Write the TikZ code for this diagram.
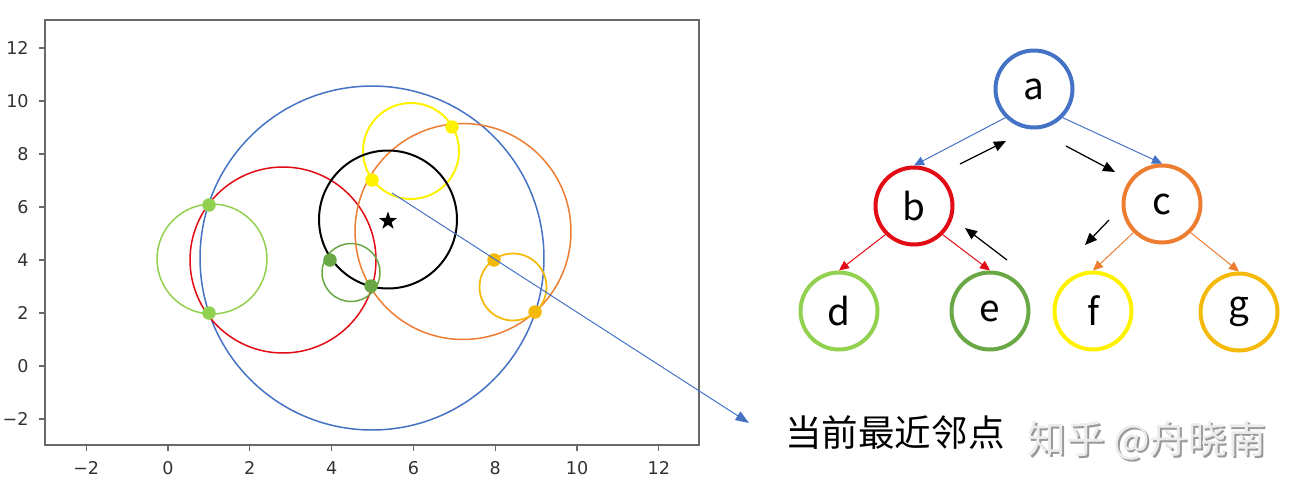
\documentclass[tikz,border=0pt]{standalone}
\usepackage{fontspec}
\setmainfont{Noto Sans CJK SC}
\newfontfamily\tickfont{DejaVu Sans}
\usetikzlibrary{arrows.meta,shapes.geometric}
\definecolor{cblue}{RGB}{68,114,196}
\definecolor{cred}{RGB}{228,12,20}
\definecolor{clgreen}{RGB}{146,208,80}
\definecolor{cdgreen}{RGB}{106,168,70}
\definecolor{cyellow}{RGB}{255,242,0}
\definecolor{cgold}{RGB}{245,185,10}
\definecolor{corange}{RGB}{237,125,49}
\definecolor{axgray}{RGB}{105,105,105}
\definecolor{labgray}{RGB}{50,50,50}
\begin{document}
\begin{tikzpicture}[x=0.02cm,y=-0.02cm,
  tnode/.style={circle,draw,line width=0.08cm,minimum size=1.54cm,inner sep=0pt,font=\fontsize{21}{25}\selectfont},
  tedge/.style={line width=0.02cm,-{Triangle[length=0.2cm,width=0.18cm]}},
  walk/.style={line width=0.025cm,-{Triangle[length=0.24cm,width=0.2cm]}},
  dot/.style={circle,inner sep=0pt,minimum size=0.27cm},
  pc/.style={line width=0.03cm},
  axtick/.style={line width=0.025cm,draw=axgray},
  ticklab/.style={font=\tickfont\fontsize{10}{12}\selectfont,text=labgray,inner sep=0pt}
]
\useasboundingbox (0,0) rectangle (1308,498);
% axes frame
\draw[axgray,line width=0.03cm] (45,20) rectangle (699,445);
\foreach \v/\t in {-2/−2,0/0,2/2,4/4,6/6,8/8,10/10,12/12}{
  \pgfmathsetmacro\yy{366-26.5*\v}
  \pgfmathsetmacro\xx{168+40.9*\v}
  \draw[axtick] (39,\yy) -- (45,\yy);
  \node[ticklab,anchor=east] at (29,\yy) {\t};
  \draw[axtick] (\xx,445) -- (\xx,451);
  \node[ticklab,anchor=north] at (\xx,461) {\t};
}
% circles
\draw[pc,cblue] (372,258) circle[radius=3.44cm];
\draw[pc,cred] (283,260) circle[radius=1.86cm];
\draw[pc,clgreen] (212,259) circle[radius=1.10cm];
\draw[pc,cdgreen] (351,272.5) circle[radius=0.58cm];
\draw[pc,cyellow,line width=0.04cm] (411,151) circle[radius=0.96cm];
\draw[pc,corange] (463,231.5) circle[radius=2.16cm];
\draw[pc,cgold,line width=0.035cm] (513,287) circle[radius=0.67cm];
\draw[black,line width=0.04cm] (388,219.5) circle[radius=1.38cm];
% points
\node[dot,fill=clgreen] (p1) at (209,205) {};
\node[dot,fill=clgreen] (p2) at (209,313) {};
\node[dot,fill=cdgreen] (p3) at (330,260) {};
\node[dot,fill=cdgreen] (p4) at (371,286) {};
\node[dot,fill=cyellow] (p5) at (372,180) {};
\node[dot,fill=cyellow] (p6) at (452,127) {};
\node[dot,fill=cgold] (p7) at (494,260) {};
\node[dot,fill=cgold] (p8) at (535,312) {};
\node[star,star points=5,star point ratio=2.5,fill=black,inner sep=0pt,minimum size=0.38cm] (q) at (388,221) {};
% pointer to label
\coordinate (ps) at (392,193);
\coordinate (pe) at (749,423);
\draw[cblue,line width=0.02cm,-{Triangle[length=0.27cm,width=0.2cm]}] (ps) -- (pe);
\node[anchor=west,inner sep=0pt,font=\fontsize{20.8}{25}\selectfont] (lbl) at (785,433) {当前最近邻点};
% watermark
\node[anchor=west,inner sep=0pt,font=\fontsize{22}{26}\selectfont,text=gray!80] (wms) at (1029,443) {知乎 @舟晓南};
\node[anchor=west,inner sep=0pt,font=\fontsize{22}{26}\selectfont,text=gray!15] (wm) at (1027,441) {知乎 @舟晓南};
% tree
\node[tnode,draw=cblue] (a) at (1034,89) {a};
\node[tnode,draw=cred] (b) at (914,206) {b};
\node[tnode,draw=corange] (c) at (1162,204) {c};
\node[tnode,draw=clgreen] (d) at (839,311) {d};
\node[tnode,draw=cdgreen] (e) at (990,311) {e};
\node[tnode,draw=cyellow] (f) at (1093,311) {f};
\node[tnode,draw=cgold] (g) at (1239,312) {g};
\draw[tedge,cblue] (a.south west) -- (b.north);
\draw[tedge,cblue] (a.south east) -- (c.north);
\draw[tedge,cred] (b.south west) -- (d.north);
\draw[tedge,cred] (b.south east) -- (e.north);
\draw[tedge,corange] (c.south west) -- (f.north);
\draw[tedge,corange] (c.south east) -- (g.north);
% walk arrows
\coordinate (w1s) at (960,164); \coordinate (w1e) at (1006,141);
\coordinate (w2s) at (1066,146); \coordinate (w2e) at (1115,172);
\coordinate (w3s) at (1109,220); \coordinate (w3e) at (1085,245);
\coordinate (w4s) at (1007,260); \coordinate (w4e) at (965,228);
\draw[walk] (w1s) -- (w1e);
\draw[walk] (w2s) -- (w2e);
\draw[walk] (w3s) -- (w3e);
\draw[walk] (w4s) -- (w4e);
\end{tikzpicture}
\end{document}
